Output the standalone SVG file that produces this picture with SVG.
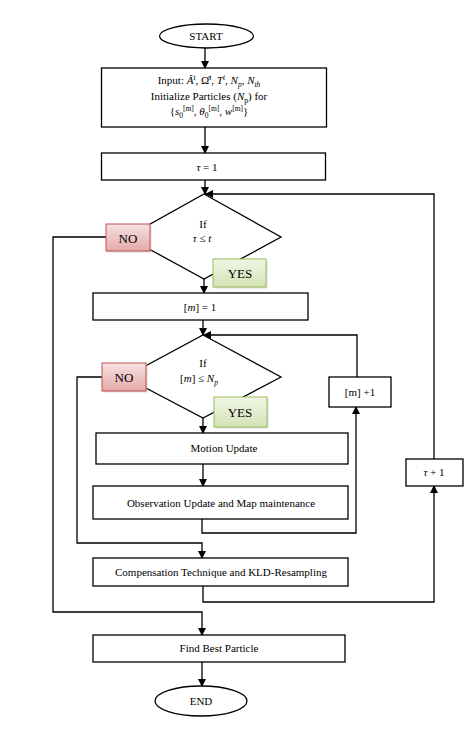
<svg xmlns="http://www.w3.org/2000/svg" width="474" height="734" viewBox="0 0 474 734">
<defs>
  <marker id="arr" markerWidth="8" markerHeight="8" refX="7" refY="4" orient="auto" markerUnits="userSpaceOnUse">
    <path d="M0,0 L8,4 L0,8 Z" fill="#000"/>
  </marker>
  <linearGradient id="gNo" x1="0" y1="0" x2="0" y2="1">
    <stop offset="0" stop-color="#f7e2e2"/>
    <stop offset="1" stop-color="#e3a9a8"/>
  </linearGradient>
  <linearGradient id="gYes" x1="0" y1="0" x2="0" y2="1">
    <stop offset="0" stop-color="#f1f6e6"/>
    <stop offset="1" stop-color="#d3e2b5"/>
  </linearGradient>
</defs>
<style>
  .box { fill: #fff; stroke: #000; stroke-width: 1.3; }
  .dia { fill: #fff; stroke: #000; stroke-width: 1.3; }
  .line { fill: none; stroke: #000; stroke-width: 1.3; }
  .arrow { fill: none; stroke: #000; stroke-width: 1.3; marker-end: url(#arr); }
  text { font-family: "Liberation Serif", "Times New Roman", serif; font-size: 11px; fill: #000; text-anchor: middle; }
  .lbl { font-size: 13px; }
  .it { font-style: italic; }
  .sc { font-size: 7.5px; }
  .no { fill: url(#gNo); stroke: #c0504d; stroke-width: 1; }
  .yes { fill: url(#gYes); stroke: #9bbb59; stroke-width: 1; }
  .shadow { fill: #bdbdbd; opacity: 0.55; }
</style>
<rect width="474" height="734" fill="#fff"/>

<g id="connectors">
  <line class="arrow" x1="205" y1="48" x2="205" y2="68"/>
  <line class="arrow" x1="205" y1="127" x2="205" y2="153"/>
  <line class="arrow" x1="205" y1="180" x2="205" y2="194"/>
  <polyline class="arrow" points="434,459 434,194 206,194"/>
  <line class="arrow" x1="204" y1="279" x2="204" y2="293"/>
  <polyline class="arrow" points="106,237 53,237 53,612 202,612 202,635"/>
  <line class="arrow" x1="203" y1="320" x2="203" y2="335"/>
  <polyline class="arrow" points="357,377 357,335 204,335"/>
  <line class="arrow" x1="203" y1="418" x2="203" y2="433"/>
  <line class="arrow" x1="203" y1="464" x2="203" y2="486"/>
  <polyline class="arrow" points="202,519 202,533 356,533 356,407"/>
  <polyline class="arrow" points="102,377 77,377 77,543 202,543 202,558"/>
  <polyline class="arrow" points="203,586 203,602 434,602 434,486"/>
  <line class="arrow" x1="202" y1="662" x2="202" y2="686"/>
</g>

<g id="start">
  <ellipse class="box" cx="206.5" cy="36" rx="47" ry="12"/>
  <text x="206" y="40">START</text>
</g>

<g id="input">
  <rect class="box" x="101.5" y="68" width="225" height="59"/>
  <text x="209" y="84">Input: <tspan class="it">Â</tspan><tspan class="sc it" dy="-4">t</tspan><tspan dy="4">, Ω̂</tspan><tspan class="sc it" dy="-4">t</tspan><tspan dy="4">, </tspan><tspan class="it">T</tspan><tspan class="sc it" dy="-4">t</tspan><tspan dy="4">, </tspan><tspan class="it">N</tspan><tspan class="sc it" dy="2.5">p</tspan><tspan dy="-2.5">, </tspan><tspan class="it">N</tspan><tspan class="sc it" dy="2.5">th</tspan></text>
  <text x="209" y="100">Initialize Particles (<tspan class="it">N</tspan><tspan class="sc" dy="2.5">p</tspan><tspan dy="-2.5">) for</tspan></text>
  <text x="209" y="115">{<tspan class="it">s</tspan><tspan class="sc" dy="2.5">0</tspan><tspan class="sc" dy="-7">[m]</tspan><tspan dy="4.5">, </tspan><tspan class="it">θ</tspan><tspan class="sc" dy="2.5">0</tspan><tspan class="sc" dy="-7">[m]</tspan><tspan dy="4.5">, </tspan><tspan class="it">w</tspan><tspan class="sc" dy="-4">[m]</tspan><tspan dy="4">}</tspan></text>
</g>

<g id="tau1">
  <rect class="box" x="101.5" y="153" width="224" height="27"/>
  <text x="207" y="171"><tspan class="it">τ</tspan> = 1</text>
</g>

<g id="decision1">
  <polygon class="dia" points="204,194 281,237 204,279 127,237"/>
  <text x="203" y="228">If</text>
  <text x="202" y="242"><tspan class="it">τ</tspan> ≤ <tspan class="it">t</tspan></text>
</g>

<g id="no1">
  <rect class="shadow" x="107.5" y="225.5" width="44" height="27"/>
  <rect class="no" x="106" y="224" width="44" height="27"/>
  <text class="lbl" x="128" y="242.5">NO</text>
</g>

<g id="yes1">
  <rect class="shadow" x="214.5" y="260.5" width="53" height="28"/>
  <rect class="yes" x="213" y="259" width="53" height="28"/>
  <text class="lbl" x="240" y="277.5">YES</text>
</g>

<g id="m1">
  <rect class="box" x="93" y="293" width="215" height="27"/>
  <text x="200" y="311">[<tspan class="it">m</tspan>] = 1</text>
</g>

<g id="decision2">
  <polygon class="dia" points="203,335 281,377 203,418 125,377"/>
  <text x="203" y="367">If</text>
  <text x="199" y="382">[<tspan class="it">m</tspan>] ≤ <tspan class="it">N</tspan><tspan class="sc it" dy="2.5">p</tspan></text>
</g>

<g id="no2">
  <rect class="shadow" x="103.5" y="364.5" width="44" height="28"/>
  <rect class="no" x="102" y="363" width="44" height="28"/>
  <text class="lbl" x="124" y="381.5">NO</text>
</g>

<g id="yes2">
  <rect class="shadow" x="215.5" y="398.5" width="53" height="30"/>
  <rect class="yes" x="214" y="397" width="53" height="30"/>
  <text class="lbl" x="240" y="416.5">YES</text>
</g>

<g id="mplus1">
  <rect class="box" x="329" y="377" width="62" height="30"/>
  <text x="360" y="396">[m] +1</text>
</g>

<g id="motion">
  <rect class="box" x="96" y="433" width="252" height="31"/>
  <text x="224" y="452">Motion Update</text>
</g>

<g id="observation">
  <rect class="box" x="93" y="486" width="255" height="33"/>
  <text x="221" y="507">Observation Update and Map maintenance</text>
</g>

<g id="compensation">
  <rect class="box" x="93" y="558" width="255" height="28"/>
  <text x="221" y="576">Compensation Technique and KLD-Resampling</text>
</g>

<g id="tauplus1">
  <rect class="box" x="406" y="459" width="57" height="27"/>
  <text x="434" y="476"><tspan class="it">τ</tspan> + 1</text>
</g>

<g id="best">
  <rect class="box" x="93" y="635" width="252" height="27"/>
  <text x="219" y="652">Find Best Particle</text>
</g>

<g id="end">
  <ellipse class="box" cx="201" cy="701" rx="46" ry="15"/>
  <text x="201" y="705">END</text>
</g>
</svg>
